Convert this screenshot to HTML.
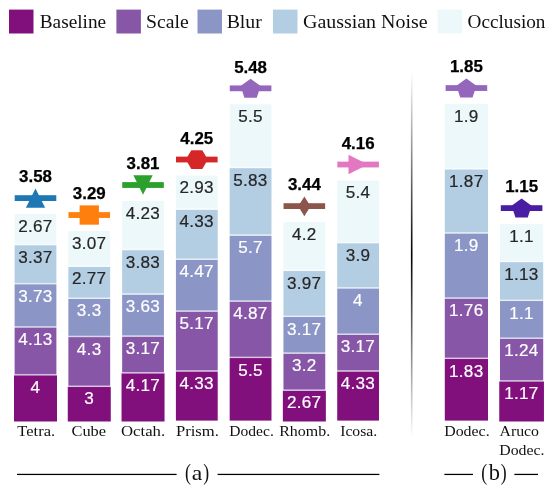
<!DOCTYPE html>
<html><head><meta charset="utf-8"><title>chart</title>
<style>html,body{margin:0;padding:0;background:#fff}svg{display:block}</style></head>
<body><svg width="550" height="490" viewBox="0 0 550 490">
<defs><linearGradient id="dv" x1="0" y1="0" x2="0" y2="1"><stop offset="0" stop-color="#000" stop-opacity="0"/><stop offset="0.5" stop-color="#000" stop-opacity="1"/><stop offset="1" stop-color="#000" stop-opacity="0"/></linearGradient></defs>
<rect width="550" height="490" fill="#fff"/>
<rect x="9" y="9.6" width="24.5" height="23.9" fill="#810f7c"/>
<text x="39.78" y="28" font-family='"Liberation Serif", "Times New Roman", serif' font-size="17.8" textLength="66.33" lengthAdjust="spacingAndGlyphs" fill="#111">Baseline</text>
<rect x="116.4" y="9.6" width="24.5" height="23.9" fill="#8856a7"/>
<text x="146.1" y="28" font-family='"Liberation Serif", "Times New Roman", serif' font-size="17.8" textLength="42.57" lengthAdjust="spacingAndGlyphs" fill="#111">Scale</text>
<rect x="197.5" y="9.6" width="24.5" height="23.9" fill="#8c96c6"/>
<text x="226.65" y="28" font-family='"Liberation Serif", "Times New Roman", serif' font-size="17.8" textLength="35.25" lengthAdjust="spacingAndGlyphs" fill="#111">Blur</text>
<rect x="273" y="9.6" width="24.5" height="23.9" fill="#b3cde3"/>
<text x="303" y="28" font-family='"Liberation Serif", "Times New Roman", serif' font-size="17.8" textLength="124.6" lengthAdjust="spacingAndGlyphs" fill="#111">Gaussian Noise</text>
<rect x="437.6" y="9.6" width="24.5" height="23.9" fill="#edf8fb"/>
<text x="467.61" y="28" font-family='"Liberation Serif", "Times New Roman", serif' font-size="17.8" textLength="77.87" lengthAdjust="spacingAndGlyphs" fill="#111">Occlusion</text>
<rect x="14" y="375.16" width="43" height="46.34" fill="#810f7c"/>
<text x="35.35" y="392.91" text-anchor="middle" font-family='"Liberation Sans", Arial, Helvetica, sans-serif' font-size="17.1" letter-spacing="0.28" fill="#ffffff" stroke="#ffffff" stroke-width="0.2">4</text>
<rect x="14.6" y="327.31" width="41.8" height="47.85" fill="#8856a7"/>
<rect x="14" y="373.96" width="43" height="1.5" fill="#fff" fill-opacity="0.62"/>
<text x="35.35" y="345.06" text-anchor="middle" font-family='"Liberation Sans", Arial, Helvetica, sans-serif' font-size="17.1" letter-spacing="0.28" fill="#ffffff" stroke="#ffffff" stroke-width="0.2">4.13</text>
<rect x="14.6" y="284.09" width="41.8" height="43.21" fill="#8c96c6"/>
<rect x="14" y="326.11" width="43" height="1.5" fill="#fff" fill-opacity="0.62"/>
<text x="35.35" y="301.84" text-anchor="middle" font-family='"Liberation Sans", Arial, Helvetica, sans-serif' font-size="17.1" letter-spacing="0.28" fill="#ffffff" stroke="#ffffff" stroke-width="0.2">3.73</text>
<rect x="14.6" y="245.05" width="41.8" height="39.04" fill="#b3cde3"/>
<rect x="14" y="282.89" width="43" height="1.5" fill="#fff" fill-opacity="0.62"/>
<text x="35.35" y="262.8" text-anchor="middle" font-family='"Liberation Sans", Arial, Helvetica, sans-serif' font-size="17.1" letter-spacing="0.28" fill="#262626" stroke="#262626" stroke-width="0.2">3.37</text>
<rect x="14.6" y="214.11" width="41.8" height="30.93" fill="#edf8fb"/>
<rect x="14" y="243.85" width="43" height="1.5" fill="#fff" fill-opacity="0.62"/>
<text x="35.35" y="231.86" text-anchor="middle" font-family='"Liberation Sans", Arial, Helvetica, sans-serif' font-size="17.1" letter-spacing="0.28" fill="#262626" stroke="#262626" stroke-width="0.2">2.67</text>
<rect x="14.7" y="195.21" width="41.6" height="5.8" fill="#1f77b4"/>
<polygon fill="#1f77b4" points="35.5,188.46 25.85,207.76 45.15,207.76"/>
<text x="35.5" y="182.31" text-anchor="middle" font-family='"Liberation Sans", Arial, Helvetica, sans-serif' font-weight="bold" font-size="16.9" fill="#000" stroke="#000" stroke-width="0.25">3.58</text>
<rect x="67.77" y="386.74" width="43" height="34.76" fill="#810f7c"/>
<text x="89.12" y="404.49" text-anchor="middle" font-family='"Liberation Sans", Arial, Helvetica, sans-serif' font-size="17.1" letter-spacing="0.28" fill="#ffffff" stroke="#ffffff" stroke-width="0.2">3</text>
<rect x="68.37" y="336.92" width="41.8" height="49.82" fill="#8856a7"/>
<rect x="67.77" y="385.54" width="43" height="1.5" fill="#fff" fill-opacity="0.62"/>
<text x="89.12" y="354.67" text-anchor="middle" font-family='"Liberation Sans", Arial, Helvetica, sans-serif' font-size="17.1" letter-spacing="0.28" fill="#ffffff" stroke="#ffffff" stroke-width="0.2">4.3</text>
<rect x="68.37" y="298.69" width="41.8" height="38.23" fill="#8c96c6"/>
<rect x="67.77" y="335.72" width="43" height="1.5" fill="#fff" fill-opacity="0.62"/>
<text x="89.12" y="316.44" text-anchor="middle" font-family='"Liberation Sans", Arial, Helvetica, sans-serif' font-size="17.1" letter-spacing="0.28" fill="#ffffff" stroke="#ffffff" stroke-width="0.2">3.3</text>
<rect x="68.37" y="266.6" width="41.8" height="32.09" fill="#b3cde3"/>
<rect x="67.77" y="297.49" width="43" height="1.5" fill="#fff" fill-opacity="0.62"/>
<text x="89.12" y="284.35" text-anchor="middle" font-family='"Liberation Sans", Arial, Helvetica, sans-serif' font-size="17.1" letter-spacing="0.28" fill="#262626" stroke="#262626" stroke-width="0.2">2.77</text>
<rect x="68.37" y="231.03" width="41.8" height="35.57" fill="#edf8fb"/>
<rect x="67.77" y="265.4" width="43" height="1.5" fill="#fff" fill-opacity="0.62"/>
<text x="89.12" y="248.78" text-anchor="middle" font-family='"Liberation Sans", Arial, Helvetica, sans-serif' font-size="17.1" letter-spacing="0.28" fill="#262626" stroke="#262626" stroke-width="0.2">3.07</text>
<rect x="68.47" y="212.13" width="41.6" height="5.8" fill="#ff7f0e"/>
<polygon fill="#ff7f0e" points="79.62,205.38 98.92,205.38 98.92,224.68 79.62,224.68"/>
<text x="89.27" y="199.23" text-anchor="middle" font-family='"Liberation Sans", Arial, Helvetica, sans-serif' font-weight="bold" font-size="16.9" fill="#000" stroke="#000" stroke-width="0.25">3.29</text>
<rect x="121.54" y="373.19" width="43" height="48.31" fill="#810f7c"/>
<text x="142.89" y="390.94" text-anchor="middle" font-family='"Liberation Sans", Arial, Helvetica, sans-serif' font-size="17.1" letter-spacing="0.28" fill="#ffffff" stroke="#ffffff" stroke-width="0.2">4.17</text>
<rect x="122.14" y="336.46" width="41.8" height="36.73" fill="#8856a7"/>
<rect x="121.54" y="371.99" width="43" height="1.5" fill="#fff" fill-opacity="0.62"/>
<text x="142.89" y="354.21" text-anchor="middle" font-family='"Liberation Sans", Arial, Helvetica, sans-serif' font-size="17.1" letter-spacing="0.28" fill="#ffffff" stroke="#ffffff" stroke-width="0.2">3.17</text>
<rect x="122.14" y="294.4" width="41.8" height="42.06" fill="#8c96c6"/>
<rect x="121.54" y="335.26" width="43" height="1.5" fill="#fff" fill-opacity="0.62"/>
<text x="142.89" y="312.15" text-anchor="middle" font-family='"Liberation Sans", Arial, Helvetica, sans-serif' font-size="17.1" letter-spacing="0.28" fill="#ffffff" stroke="#ffffff" stroke-width="0.2">3.63</text>
<rect x="122.14" y="250.03" width="41.8" height="44.37" fill="#b3cde3"/>
<rect x="121.54" y="293.2" width="43" height="1.5" fill="#fff" fill-opacity="0.62"/>
<text x="142.89" y="267.78" text-anchor="middle" font-family='"Liberation Sans", Arial, Helvetica, sans-serif' font-size="17.1" letter-spacing="0.28" fill="#262626" stroke="#262626" stroke-width="0.2">3.83</text>
<rect x="122.14" y="201.02" width="41.8" height="49.01" fill="#edf8fb"/>
<rect x="121.54" y="248.83" width="43" height="1.5" fill="#fff" fill-opacity="0.62"/>
<text x="142.89" y="218.77" text-anchor="middle" font-family='"Liberation Sans", Arial, Helvetica, sans-serif' font-size="17.1" letter-spacing="0.28" fill="#262626" stroke="#262626" stroke-width="0.2">4.23</text>
<rect x="122.24" y="182.12" width="41.6" height="5.8" fill="#2ca02c"/>
<polygon fill="#2ca02c" points="143.04,194.67 133.39,175.37 152.69,175.37"/>
<text x="143.04" y="169.22" text-anchor="middle" font-family='"Liberation Sans", Arial, Helvetica, sans-serif' font-weight="bold" font-size="16.9" fill="#000" stroke="#000" stroke-width="0.25">3.81</text>
<rect x="175.91" y="371.33" width="41.8" height="49.27" fill="#810f7c"/>
<text x="196.66" y="389.08" text-anchor="middle" font-family='"Liberation Sans", Arial, Helvetica, sans-serif' font-size="17.1" letter-spacing="0.28" fill="#ffffff" stroke="#ffffff" stroke-width="0.2">4.33</text>
<rect x="175.91" y="311.44" width="41.8" height="59.9" fill="#8856a7"/>
<rect x="175.31" y="370.13" width="43" height="1.5" fill="#fff" fill-opacity="0.62"/>
<text x="196.66" y="329.19" text-anchor="middle" font-family='"Liberation Sans", Arial, Helvetica, sans-serif' font-size="17.1" letter-spacing="0.28" fill="#ffffff" stroke="#ffffff" stroke-width="0.2">5.17</text>
<rect x="175.91" y="259.65" width="41.8" height="51.79" fill="#8c96c6"/>
<rect x="175.31" y="310.24" width="43" height="1.5" fill="#fff" fill-opacity="0.62"/>
<text x="196.66" y="277.4" text-anchor="middle" font-family='"Liberation Sans", Arial, Helvetica, sans-serif' font-size="17.1" letter-spacing="0.28" fill="#ffffff" stroke="#ffffff" stroke-width="0.2">4.47</text>
<rect x="175.91" y="209.48" width="41.8" height="50.17" fill="#b3cde3"/>
<rect x="175.31" y="258.45" width="43" height="1.5" fill="#fff" fill-opacity="0.62"/>
<text x="196.66" y="227.23" text-anchor="middle" font-family='"Liberation Sans", Arial, Helvetica, sans-serif' font-size="17.1" letter-spacing="0.28" fill="#262626" stroke="#262626" stroke-width="0.2">4.33</text>
<rect x="175.91" y="175.53" width="41.8" height="33.95" fill="#edf8fb"/>
<rect x="175.31" y="208.28" width="43" height="1.5" fill="#fff" fill-opacity="0.62"/>
<text x="196.66" y="193.28" text-anchor="middle" font-family='"Liberation Sans", Arial, Helvetica, sans-serif' font-size="17.1" letter-spacing="0.28" fill="#262626" stroke="#262626" stroke-width="0.2">2.93</text>
<rect x="176.01" y="156.63" width="41.6" height="5.8" fill="#d62728"/>
<polygon fill="#d62728" points="207.83,159.53 202.32,168.9 191.3,168.9 185.79,159.53 191.3,150.17 202.32,150.17"/>
<text x="196.81" y="143.73" text-anchor="middle" font-family='"Liberation Sans", Arial, Helvetica, sans-serif' font-weight="bold" font-size="16.9" fill="#000" stroke="#000" stroke-width="0.25">4.25</text>
<rect x="229.68" y="357.84" width="41.8" height="62.76" fill="#810f7c"/>
<text x="250.43" y="375.59" text-anchor="middle" font-family='"Liberation Sans", Arial, Helvetica, sans-serif' font-size="17.1" letter-spacing="0.28" fill="#ffffff" stroke="#ffffff" stroke-width="0.2">5.5</text>
<rect x="229.68" y="301.47" width="41.8" height="56.36" fill="#8856a7"/>
<rect x="229.08" y="356.64" width="43" height="1.5" fill="#fff" fill-opacity="0.62"/>
<text x="250.43" y="319.22" text-anchor="middle" font-family='"Liberation Sans", Arial, Helvetica, sans-serif' font-size="17.1" letter-spacing="0.28" fill="#ffffff" stroke="#ffffff" stroke-width="0.2">4.87</text>
<rect x="229.68" y="235.49" width="41.8" height="65.98" fill="#8c96c6"/>
<rect x="229.08" y="300.27" width="43" height="1.5" fill="#fff" fill-opacity="0.62"/>
<text x="250.43" y="253.24" text-anchor="middle" font-family='"Liberation Sans", Arial, Helvetica, sans-serif' font-size="17.1" letter-spacing="0.28" fill="#ffffff" stroke="#ffffff" stroke-width="0.2">5.7</text>
<rect x="229.68" y="168" width="41.8" height="67.49" fill="#b3cde3"/>
<rect x="229.08" y="234.29" width="43" height="1.5" fill="#fff" fill-opacity="0.62"/>
<text x="250.43" y="185.75" text-anchor="middle" font-family='"Liberation Sans", Arial, Helvetica, sans-serif' font-size="17.1" letter-spacing="0.28" fill="#262626" stroke="#262626" stroke-width="0.2">5.83</text>
<rect x="229.68" y="104.34" width="41.8" height="63.66" fill="#edf8fb"/>
<rect x="229.08" y="166.8" width="43" height="1.5" fill="#fff" fill-opacity="0.62"/>
<text x="250.43" y="122.09" text-anchor="middle" font-family='"Liberation Sans", Arial, Helvetica, sans-serif' font-size="17.1" letter-spacing="0.28" fill="#262626" stroke="#262626" stroke-width="0.2">5.5</text>
<rect x="229.78" y="85.44" width="41.6" height="5.8" fill="#9467bd"/>
<polygon fill="#9467bd" points="250.58,78.74 260.57,85.99 256.75,97.73 244.41,97.73 240.59,85.99"/>
<text x="250.58" y="72.54" text-anchor="middle" font-family='"Liberation Sans", Arial, Helvetica, sans-serif' font-weight="bold" font-size="16.9" fill="#000" stroke="#000" stroke-width="0.25">5.48</text>
<rect x="282.85" y="390.57" width="43" height="30.93" fill="#810f7c"/>
<text x="304.2" y="408.32" text-anchor="middle" font-family='"Liberation Sans", Arial, Helvetica, sans-serif' font-size="17.1" letter-spacing="0.28" fill="#ffffff" stroke="#ffffff" stroke-width="0.2">2.67</text>
<rect x="283.45" y="353.49" width="41.8" height="37.07" fill="#8856a7"/>
<rect x="282.85" y="389.37" width="43" height="1.5" fill="#fff" fill-opacity="0.62"/>
<text x="304.2" y="371.24" text-anchor="middle" font-family='"Liberation Sans", Arial, Helvetica, sans-serif' font-size="17.1" letter-spacing="0.28" fill="#ffffff" stroke="#ffffff" stroke-width="0.2">3.2</text>
<rect x="283.45" y="316.76" width="41.8" height="36.73" fill="#8c96c6"/>
<rect x="282.85" y="352.29" width="43" height="1.5" fill="#fff" fill-opacity="0.62"/>
<text x="304.2" y="334.51" text-anchor="middle" font-family='"Liberation Sans", Arial, Helvetica, sans-serif' font-size="17.1" letter-spacing="0.28" fill="#ffffff" stroke="#ffffff" stroke-width="0.2">3.17</text>
<rect x="283.45" y="270.77" width="41.8" height="46" fill="#b3cde3"/>
<rect x="282.85" y="315.56" width="43" height="1.5" fill="#fff" fill-opacity="0.62"/>
<text x="304.2" y="288.52" text-anchor="middle" font-family='"Liberation Sans", Arial, Helvetica, sans-serif' font-size="17.1" letter-spacing="0.28" fill="#262626" stroke="#262626" stroke-width="0.2">3.97</text>
<rect x="283.45" y="222.11" width="41.8" height="48.66" fill="#edf8fb"/>
<rect x="282.85" y="269.57" width="43" height="1.5" fill="#fff" fill-opacity="0.62"/>
<text x="304.2" y="239.86" text-anchor="middle" font-family='"Liberation Sans", Arial, Helvetica, sans-serif' font-size="17.1" letter-spacing="0.28" fill="#262626" stroke="#262626" stroke-width="0.2">4.2</text>
<rect x="283.55" y="203.21" width="41.6" height="5.8" fill="#8c564b"/>
<polygon fill="#8c564b" points="304.35,196.41 310.45,206.31 304.35,216.21 298.25,206.31"/>
<text x="304.35" y="190.31" text-anchor="middle" font-family='"Liberation Sans", Arial, Helvetica, sans-serif' font-weight="bold" font-size="16.9" fill="#000" stroke="#000" stroke-width="0.25">3.44</text>
<rect x="337.22" y="371.33" width="41.8" height="49.27" fill="#810f7c"/>
<text x="357.97" y="389.08" text-anchor="middle" font-family='"Liberation Sans", Arial, Helvetica, sans-serif' font-size="17.1" letter-spacing="0.28" fill="#ffffff" stroke="#ffffff" stroke-width="0.2">4.33</text>
<rect x="337.22" y="334.61" width="41.8" height="36.73" fill="#8856a7"/>
<rect x="336.62" y="370.13" width="43" height="1.5" fill="#fff" fill-opacity="0.62"/>
<text x="357.97" y="352.36" text-anchor="middle" font-family='"Liberation Sans", Arial, Helvetica, sans-serif' font-size="17.1" letter-spacing="0.28" fill="#ffffff" stroke="#ffffff" stroke-width="0.2">3.17</text>
<rect x="337.22" y="288.26" width="41.8" height="46.34" fill="#8c96c6"/>
<rect x="336.62" y="333.41" width="43" height="1.5" fill="#fff" fill-opacity="0.62"/>
<text x="357.97" y="306.01" text-anchor="middle" font-family='"Liberation Sans", Arial, Helvetica, sans-serif' font-size="17.1" letter-spacing="0.28" fill="#ffffff" stroke="#ffffff" stroke-width="0.2">4</text>
<rect x="337.22" y="243.08" width="41.8" height="45.18" fill="#b3cde3"/>
<rect x="336.62" y="287.06" width="43" height="1.5" fill="#fff" fill-opacity="0.62"/>
<text x="357.97" y="260.83" text-anchor="middle" font-family='"Liberation Sans", Arial, Helvetica, sans-serif' font-size="17.1" letter-spacing="0.28" fill="#262626" stroke="#262626" stroke-width="0.2">3.9</text>
<rect x="337.22" y="180.52" width="41.8" height="62.56" fill="#edf8fb"/>
<rect x="336.62" y="241.88" width="43" height="1.5" fill="#fff" fill-opacity="0.62"/>
<text x="357.97" y="198.27" text-anchor="middle" font-family='"Liberation Sans", Arial, Helvetica, sans-serif' font-size="17.1" letter-spacing="0.28" fill="#262626" stroke="#262626" stroke-width="0.2">5.4</text>
<rect x="337.32" y="161.62" width="41.6" height="5.8" fill="#e377c2"/>
<polygon fill="#e377c2" points="367.77,164.52 348.47,154.87 348.47,174.17"/>
<text x="358.12" y="148.72" text-anchor="middle" font-family='"Liberation Sans", Arial, Helvetica, sans-serif' font-weight="bold" font-size="16.9" fill="#000" stroke="#000" stroke-width="0.25">4.16</text>
<rect x="444.8" y="358.76" width="43.2" height="61.84" fill="#810f7c"/>
<text x="466.25" y="376.51" text-anchor="middle" font-family='"Liberation Sans", Arial, Helvetica, sans-serif' font-size="17.1" letter-spacing="0.28" fill="#ffffff" stroke="#ffffff" stroke-width="0.2">1.83</text>
<rect x="444.8" y="298.43" width="43.2" height="60.34" fill="#8856a7"/>
<rect x="444.05" y="357.56" width="44.7" height="1.5" fill="#fff" fill-opacity="0.62"/>
<text x="466.25" y="316.18" text-anchor="middle" font-family='"Liberation Sans", Arial, Helvetica, sans-serif' font-size="17.1" letter-spacing="0.28" fill="#ffffff" stroke="#ffffff" stroke-width="0.2">1.76</text>
<rect x="444.8" y="233.29" width="43.2" height="65.14" fill="#8c96c6"/>
<rect x="444.05" y="297.23" width="44.7" height="1.5" fill="#fff" fill-opacity="0.62"/>
<text x="466.25" y="251.04" text-anchor="middle" font-family='"Liberation Sans", Arial, Helvetica, sans-serif' font-size="17.1" letter-spacing="0.28" fill="#ffffff" stroke="#ffffff" stroke-width="0.2">1.9</text>
<rect x="444.8" y="169.19" width="43.2" height="64.11" fill="#b3cde3"/>
<rect x="444.05" y="232.09" width="44.7" height="1.5" fill="#fff" fill-opacity="0.62"/>
<text x="466.25" y="186.94" text-anchor="middle" font-family='"Liberation Sans", Arial, Helvetica, sans-serif' font-size="17.1" letter-spacing="0.28" fill="#262626" stroke="#262626" stroke-width="0.2">1.87</text>
<rect x="444.8" y="104.05" width="43.2" height="65.14" fill="#edf8fb"/>
<rect x="444.05" y="167.99" width="44.7" height="1.5" fill="#fff" fill-opacity="0.62"/>
<text x="466.25" y="121.8" text-anchor="middle" font-family='"Liberation Sans", Arial, Helvetica, sans-serif' font-size="17.1" letter-spacing="0.28" fill="#262626" stroke="#262626" stroke-width="0.2">1.9</text>
<rect x="445.6" y="85.15" width="41.6" height="5.8" fill="#9467bd"/>
<polygon fill="#9467bd" points="466.4,78.45 476.39,85.71 472.57,97.44 460.23,97.44 456.41,85.71"/>
<text x="466.4" y="72.25" text-anchor="middle" font-family='"Liberation Sans", Arial, Helvetica, sans-serif' font-weight="bold" font-size="16.9" fill="#000" stroke="#000" stroke-width="0.25">1.85</text>
<rect x="499.25" y="381.25" width="44.7" height="40.25" fill="#810f7c"/>
<text x="521.45" y="399" text-anchor="middle" font-family='"Liberation Sans", Arial, Helvetica, sans-serif' font-size="17.1" letter-spacing="0.28" fill="#ffffff" stroke="#ffffff" stroke-width="0.2">1.17</text>
<rect x="500" y="338.61" width="43.2" height="42.65" fill="#8856a7"/>
<rect x="499.25" y="380.05" width="44.7" height="1.5" fill="#fff" fill-opacity="0.62"/>
<text x="521.45" y="356.36" text-anchor="middle" font-family='"Liberation Sans", Arial, Helvetica, sans-serif' font-size="17.1" letter-spacing="0.28" fill="#ffffff" stroke="#ffffff" stroke-width="0.2">1.24</text>
<rect x="500" y="300.76" width="43.2" height="37.85" fill="#8c96c6"/>
<rect x="499.25" y="337.41" width="44.7" height="1.5" fill="#fff" fill-opacity="0.62"/>
<text x="521.45" y="318.51" text-anchor="middle" font-family='"Liberation Sans", Arial, Helvetica, sans-serif' font-size="17.1" letter-spacing="0.28" fill="#ffffff" stroke="#ffffff" stroke-width="0.2">1.1</text>
<rect x="500" y="261.95" width="43.2" height="38.81" fill="#b3cde3"/>
<rect x="499.25" y="299.56" width="44.7" height="1.5" fill="#fff" fill-opacity="0.62"/>
<text x="521.45" y="279.7" text-anchor="middle" font-family='"Liberation Sans", Arial, Helvetica, sans-serif' font-size="17.1" letter-spacing="0.28" fill="#262626" stroke="#262626" stroke-width="0.2">1.13</text>
<rect x="500" y="224.11" width="43.2" height="37.85" fill="#edf8fb"/>
<rect x="499.25" y="260.75" width="44.7" height="1.5" fill="#fff" fill-opacity="0.62"/>
<text x="521.45" y="241.86" text-anchor="middle" font-family='"Liberation Sans", Arial, Helvetica, sans-serif' font-size="17.1" letter-spacing="0.28" fill="#262626" stroke="#262626" stroke-width="0.2">1.1</text>
<rect x="500.8" y="205.21" width="41.6" height="5.8" fill="#4a1ea2"/>
<polygon fill="#4a1ea2" points="521.6,198.51 531.59,205.76 527.77,217.5 515.43,217.5 511.61,205.76"/>
<text x="521.6" y="192.31" text-anchor="middle" font-family='"Liberation Sans", Arial, Helvetica, sans-serif' font-weight="bold" font-size="16.9" fill="#000" stroke="#000" stroke-width="0.25">1.15</text>
<text x="17.35" y="435.6" font-family='"Liberation Serif", "Times New Roman", serif' font-size="15.5" textLength="37.75" lengthAdjust="spacingAndGlyphs" fill="#111">Tetra.</text>
<text x="71.5" y="435.6" font-family='"Liberation Serif", "Times New Roman", serif' font-size="15.5" textLength="34.59" lengthAdjust="spacingAndGlyphs" fill="#111">Cube</text>
<text x="121" y="435.6" font-family='"Liberation Serif", "Times New Roman", serif' font-size="15.5" textLength="44.12" lengthAdjust="spacingAndGlyphs" fill="#111">Octah.</text>
<text x="175.92" y="435.6" font-family='"Liberation Serif", "Times New Roman", serif' font-size="15.5" textLength="42.96" lengthAdjust="spacingAndGlyphs" fill="#111">Prism.</text>
<text x="229.3" y="435.6" font-family='"Liberation Serif", "Times New Roman", serif' font-size="15.5" textLength="44.52" lengthAdjust="spacingAndGlyphs" fill="#111">Dodec.</text>
<text x="279.22" y="435.6" font-family='"Liberation Serif", "Times New Roman", serif' font-size="15.5" textLength="50.93" lengthAdjust="spacingAndGlyphs" fill="#111">Rhomb.</text>
<text x="340.16" y="435.6" font-family='"Liberation Serif", "Times New Roman", serif' font-size="15.5" textLength="37.02" lengthAdjust="spacingAndGlyphs" fill="#111">Icosa.</text>
<text x="444.23" y="435.6" font-family='"Liberation Serif", "Times New Roman", serif' font-size="15.5" textLength="45.4" lengthAdjust="spacingAndGlyphs" fill="#111">Dodec.</text>
<text x="499.44" y="435.6" font-family='"Liberation Serif", "Times New Roman", serif' font-size="15.5" textLength="39.6" lengthAdjust="spacingAndGlyphs" fill="#111">Aruco</text>
<text x="499.24" y="454.6" font-family='"Liberation Serif", "Times New Roman", serif' font-size="15.5" textLength="45.24" lengthAdjust="spacingAndGlyphs" fill="#111">Dodec.</text>
<text transform="translate(184.9,479.55) scale(0.76,1)" font-family='"Liberation Serif", "Times New Roman", serif' font-size="23.3" fill="#111">(</text>
<text transform="translate(191.7,480) scale(1.08,1)" font-family='"Liberation Serif", "Times New Roman", serif' font-size="22" fill="#111">a</text>
<text transform="translate(203.25,479.55) scale(0.76,1)" font-family='"Liberation Serif", "Times New Roman", serif' font-size="23.3" fill="#111">)</text>
<text transform="translate(481.3,479.55) scale(0.76,1)" font-family='"Liberation Serif", "Times New Roman", serif' font-size="23.3" fill="#111">(</text>
<text transform="translate(488.8,479.9) scale(0.955,1)" font-family='"Liberation Serif", "Times New Roman", serif' font-size="23.5" fill="#111">b</text>
<text transform="translate(500.7,479.55) scale(0.76,1)" font-family='"Liberation Serif", "Times New Roman", serif' font-size="23.3" fill="#111">)</text>
<rect x="410.9" y="72" width="1.6" height="366" fill="url(#dv)"/>
<rect x="17" y="473.8" width="159.6" height="1.25" fill="#000"/>
<rect x="217.6" y="473.8" width="161.8" height="1.25" fill="#000"/>
<rect x="444.4" y="473.8" width="28.6" height="1.25" fill="#000"/>
<rect x="514.4" y="473.8" width="23.6" height="1.25" fill="#000"/>
</svg></body></html>
